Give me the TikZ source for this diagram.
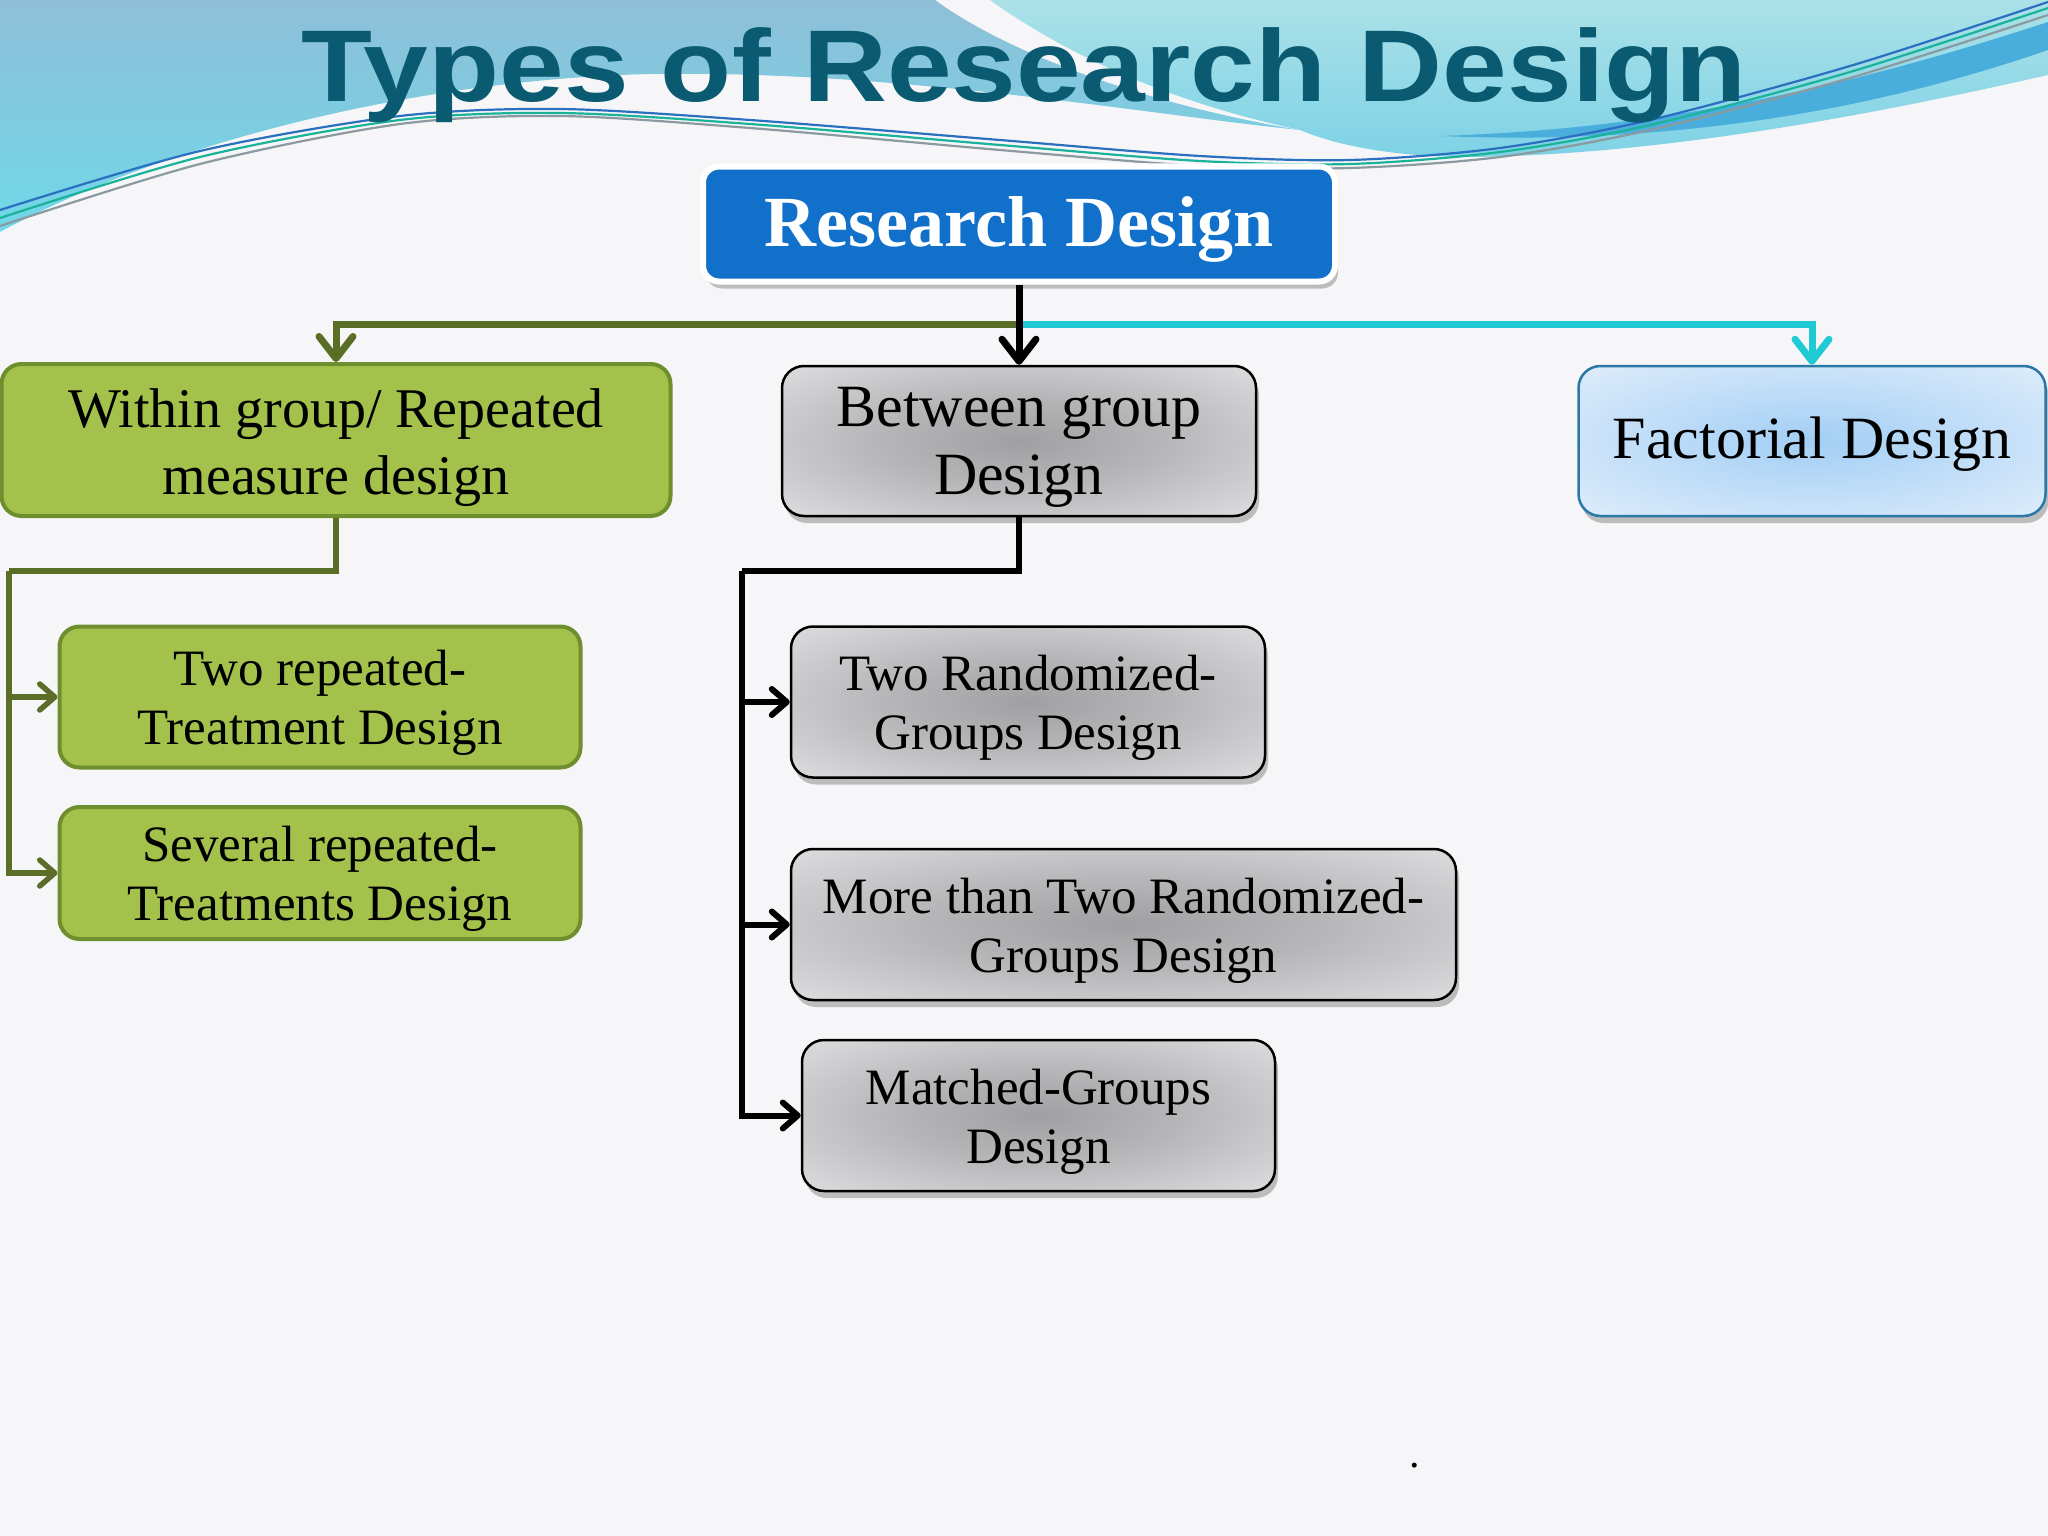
\documentclass[tikz,border=0pt]{standalone}
\usepackage{fontspec}
\setmainfont{Liberation Serif}
\newfontfamily\titlefont{Liberation Sans}
\usetikzlibrary{arrows.meta,shadows,calc}

\definecolor{bgc}{HTML}{F6F6F8}
\definecolor{titlec}{HTML}{0A5B72}
\definecolor{rdblue}{HTML}{1170C9}
\definecolor{grnfill}{HTML}{A3C14B}
\definecolor{grnedge}{HTML}{6F8F2F}
\definecolor{grnline}{HTML}{5B6E27}
\definecolor{cyanline}{HTML}{1FCAD4}
\definecolor{fdedge}{HTML}{2B78A6}
\definecolor{fdin}{HTML}{A2CEF4}
\definecolor{fdmid}{HTML}{BCDBF7}
\definecolor{fdlt}{HTML}{E4F0FC}
\definecolor{fdout}{HTML}{F0F7FE}
\definecolor{gin}{HTML}{A0A0A2}
\definecolor{gmid}{HTML}{B6B6B8}
\definecolor{glt}{HTML}{DCDCDE}
\definecolor{gedge}{HTML}{EDEDEE}
\definecolor{gout}{HTML}{F6F6F7}
\definecolor{wavea}{HTML}{8EBFD8}
\definecolor{waveb}{HTML}{70D8E8}
\definecolor{wavec}{HTML}{ABE1E8}
\definecolor{swooshc}{HTML}{4AAEDC}
\definecolor{bandc}{HTML}{7ED2E6}
\definecolor{lineteal}{HTML}{1AB39A}
\definecolor{lineblue}{HTML}{2A6FC0}
\definecolor{linegray}{HTML}{8A9AA0}

\pgfdeclareradialshading{grayrad}{\pgfpoint{0bp}{0bp}}{color(0bp)=(gin); color(15bp)=(gmid); color(35bp)=(glt); color(50bp)=(gedge); color(72bp)=(gout)}
\pgfdeclareradialshading{bluerad}{\pgfpoint{0bp}{0bp}}{color(0bp)=(fdin); color(15bp)=(fdmid); color(40bp)=(fdlt); color(72bp)=(fdout)}

\tikzset{
  boxshadow/.style={drop shadow={shadow xshift=3pt, shadow yshift=-7pt, opacity=0.4, fill=black!60}},
  rdbox/.style={draw=white, line width=6pt, fill=rdblue, rounded corners=16pt, text=white,
     font=\bfseries\fontsize{72}{80}\selectfont, boxshadow, inner sep=0pt, text height=60pt},
  grnbox/.style={draw=grnedge, line width=4pt, fill=grnfill, rounded corners=20pt, align=center,
     inner sep=0pt},
  graybox/.style={draw=black, line width=2.5pt, shading=grayrad,
     rounded corners=22pt, align=center, inner sep=0pt, boxshadow},
  bluebox/.style={draw=fdedge, line width=2.5pt, shading=bluerad,
     rounded corners=22pt, align=center, inner sep=0pt, boxshadow},
  bigtxt/.style={font=\fontsize{60}{68}\selectfont, text height=120pt},
  onetxt/.style={font=\fontsize{60}{68}\selectfont, text height=47pt},
  midtxt/.style={font=\fontsize{56}{67}\selectfont, text height=121pt},
  smalltxt/.style={font=\fontsize{51}{59}\selectfont, text height=106pt},
  downtip/.style={-{Straight Barb[round,length=22pt,width=34pt]}},
  sidetip/.style={-{Straight Barb[round,length=15pt,width=26pt]}},
  grnconn/.style={draw=grnline, line width=7pt},
  blkconn/.style={draw=black, line width=7pt},
  cyconn/.style={draw=cyanline, line width=7pt},
  grnside/.style={draw=grnline, line width=5.5pt},
  blkside/.style={draw=black, line width=6pt},
  thinline/.style={line width=2.2pt},
}

\begin{document}
\begin{tikzpicture}[x=1pt,y=-1pt]
\useasboundingbox (0,0) rectangle (2048,1536);
\fill[bgc] (0,0) rectangle (2048,1536);

% decorative waves
\shade[top color=wavea, bottom color=waveb]
  (0,0) -- (935,0) .. controls (1010,55) and (1150,105) .. (1300,130)
  .. controls (1150,115) and (900,70) .. (650,74)
  .. controls (400,80) and (150,150) .. (0,232) -- cycle;
\shade[top color=wavec, bottom color=bandc]
  (990,0) -- (2048,0) -- (2048,75) .. controls (1850,120) and (1650,155) .. (1470,157)
  .. controls (1400,157) and (1340,147) .. (1300,130)
  .. controls (1160,100) and (1060,50) .. (990,0) -- cycle;
\fill[swooshc]
  (1440,136) .. controls (1700,128) and (1900,70) .. (2048,22) -- (2048,50)
  .. controls (1880,108) and (1680,146) .. (1440,136) -- cycle;
\draw[thinline, draw=linegray] plot[smooth] coordinates
  {(0,226) (200,164) (400,124) (560,116) (750,128) (1000,150) (1200,166) (1350,168) (1500,157) (1650,130) (1850,78) (2048,15)};
\draw[thinline, draw=lineblue] plot[smooth] coordinates
  {(0,210) (200,151) (400,116) (560,109) (750,120) (1000,140) (1200,156) (1350,160) (1500,148) (1650,120) (1850,66) (2048,2)};
\draw[thinline, draw=lineteal] plot[smooth] coordinates
  {(0,218) (200,157) (400,120) (560,113) (750,124) (1000,145) (1200,161) (1350,164) (1500,152) (1650,125) (1850,72) (2048,8)};

% title
\node[anchor=base, text=titlec, inner sep=0pt,
      font=\titlefont\bfseries\fontsize{102}{110}\selectfont] (title) at (1024,102)
  {\scalebox{1.14}[1]{Types of Research Design}};

% boxes
\node[rdbox, minimum width=632pt, minimum height=115pt] (rd) at (1019,224) {Research Design};
\node[grnbox, midtxt, minimum width=669pt, minimum height=152pt] (wg) at (336,440)
  {Within group/ Repeated\\measure design};
\node[graybox, bigtxt, minimum width=474pt, minimum height=150pt] (bg) at (1019,441)
  {Between group\\Design};
\node[bluebox, onetxt, minimum width=467pt, minimum height=150pt] (fd) at (1812,441)
  {Factorial Design};
\node[grnbox, smalltxt, minimum width=521pt, minimum height=141pt] (tr) at (320,697)
  {Two repeated-\\Treatment Design};
\node[grnbox, smalltxt, minimum width=521pt, minimum height=132pt] (sr) at (320,873)
  {Several repeated-\\Treatments Design};
\node[graybox, smalltxt, minimum width=474pt, minimum height=151pt] (r2) at (1028,702)
  {Two Randomized-\\Groups Design};
\node[graybox, smalltxt, minimum width=665pt, minimum height=151pt] (r3) at (1123.5,924.5)
  {More than Two Randomized-\\Groups Design};
\node[graybox, smalltxt, minimum width=473pt, minimum height=151pt] (mg) at (1038.5,1115.5)
  {Matched-Groups\\Design};
\node[font=\fontsize{42}{42}\selectfont, inner sep=0pt] (dot) at (1415,1466) {.};

% connectors
\coordinate (split) at (1019,324);
\coordinate (gL) at (9,571);
\coordinate (bL) at (742,571);

\draw[grnconn, downtip] (split) -| (wg.north);
\draw[cyconn, downtip] (split) -| (fd.north);
\draw[blkconn, downtip] (rd.south) -- (bg.north);

\draw[grnside] (wg.south) |- (gL);
\draw[grnside, sidetip] (gL) |- (tr.west);
\draw[grnside, sidetip] (gL) |- (sr.west);

\draw[blkside] (bg.south) |- (bL);
\draw[blkside, sidetip] (bL) |- (r2.west);
\draw[blkside, sidetip] (bL) |- (r3.west);
\draw[blkside, sidetip] (bL) |- (mg.west);
\end{tikzpicture}
\end{document}
